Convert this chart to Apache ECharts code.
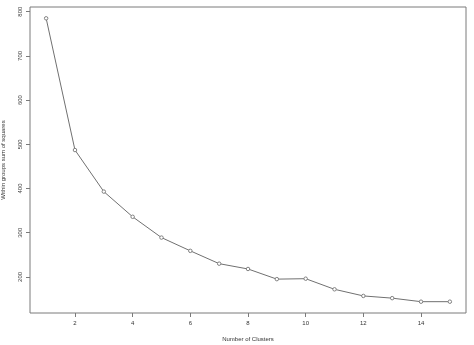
<!DOCTYPE html>
<html><head><meta charset="utf-8">
<script src="https://cdn.jsdelivr.net/npm/echarts@6/dist/echarts.min.js"></script>
<style>html,body{margin:0;padding:0;background:#fff}#c{width:474px;height:345px}</style>
</head><body><div id="c"></div>
<script>
const clusters = [1,2,3,4,5,6,7,8,9,10,11,12,13,14,15];
const wss = [785,487,393,336,289,259,230,218,195,196,172,157,152,144,144];
const xTicks = [2,4,6,8,10,12,14];
const yTicks = [200,300,400,500,600,700,800];
const xTitle = 'Number of Clusters';
const yTitle = 'Within groups sum of squares';

const chart = echarts.init(document.getElementById('c'), null, {renderer:'canvas'});
const font = 'Liberation Sans, Arial, sans-serif';
chart.setOption({
  animation:false,
  grid:{left:30,top:7,right:8,bottom:32,show:true,borderColor:'#7a7a7a',borderWidth:1,backgroundColor:'transparent',
    containLabel:false,outerBoundsMode:'none'},
  xAxis:{type:'value',min:0.44,max:15.56,
    name:xTitle,nameLocation:'middle',nameGap:23,
    nameTextStyle:{fontSize:6,color:'#333',fontFamily:font},
    axisLine:{show:false},splitLine:{show:false},
    axisTick:{show:true,length:4,customValues:xTicks,lineStyle:{color:'#7a7a7a'}},
    axisLabel:{customValues:xTicks,fontSize:6,color:'#333',fontFamily:font,margin:7}},
  yAxis:{type:'value',min:118.4,max:810.6,
    name:yTitle,nameLocation:'middle',nameGap:24,nameRotate:90,
    nameTextStyle:{fontSize:6,color:'#333',fontFamily:font},
    axisLine:{show:false},splitLine:{show:false},
    axisTick:{show:true,length:4,customValues:yTicks,lineStyle:{color:'#7a7a7a'}},
    axisLabel:{customValues:yTicks,rotate:90,fontSize:6,color:'#444',fontFamily:font,margin:7}},
  series:[{type:'line',data:clusters.map((c,i)=>[c,wss[i]]),
    symbol:'circle',symbolSize:3.5,showAllSymbol:true,
    itemStyle:{color:'#fff',borderColor:'#808080',borderWidth:1},
    lineStyle:{color:'#707070',width:1}}]
});
</script></body></html>
